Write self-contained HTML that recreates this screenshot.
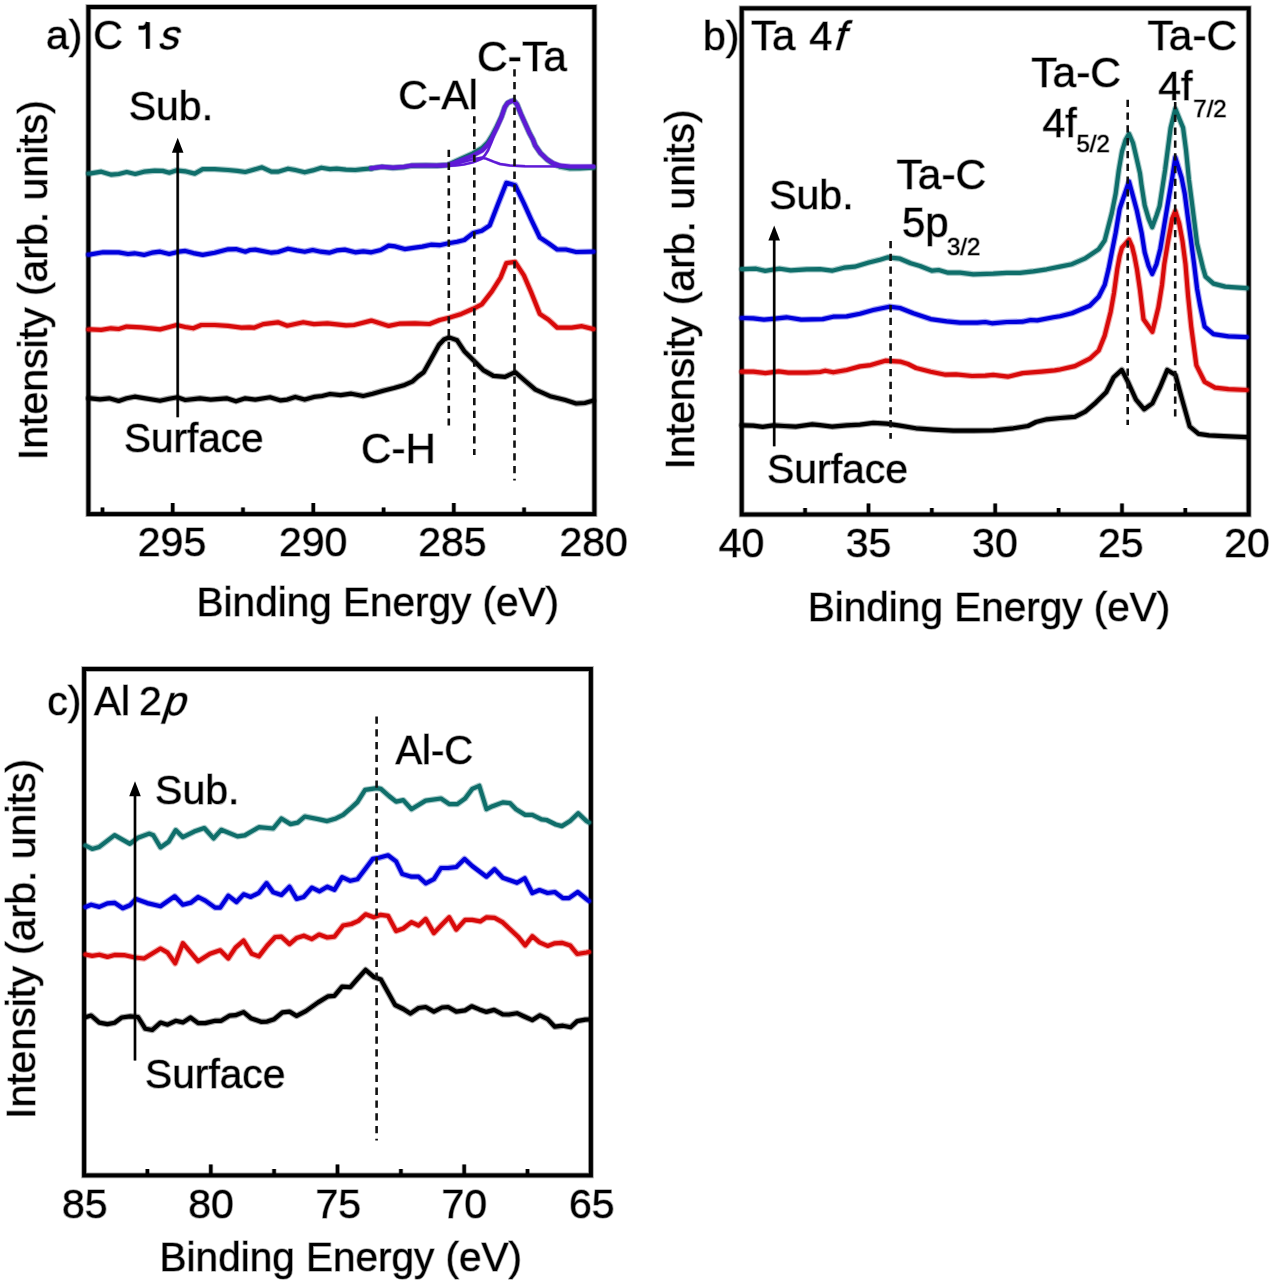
<!DOCTYPE html>
<html><head><meta charset="utf-8"><style>
html,body{margin:0;padding:0;background:#fff;}
svg{display:block;will-change:transform;}
text{font-family:"Liberation Sans",sans-serif;fill:#000;stroke:rgba(0,0,0,0.35);stroke-width:1.6px;paint-order:stroke;stroke-linejoin:round;}
</style></head><body>
<svg width="1275" height="1280" viewBox="0 0 1275 1280">
<defs>
<path d="M102.5 514.1V507.6M172.7 514.1V503.1M243.0 514.1V507.6M313.3 514.1V503.1M383.6 514.1V507.6M453.8 514.1V503.1M524.1 514.1V507.6" id="g1"/>
<rect x="88.4" y="7.0" width="506.0" height="507.1" id="g2"/>
<path d="M805.1 514.5V508.0M868.5 514.5V503.5M931.8 514.5V508.0M995.2 514.5V503.5M1058.6 514.5V508.0M1122.0 514.5V503.5M1185.3 514.5V508.0" id="g3"/>
<rect x="741.7" y="8.3" width="507.0" height="506.2" id="g4"/>
<path d="M147.4 1175.4V1168.9M210.8 1175.4V1164.4M274.1 1175.4V1168.9M337.5 1175.4V1164.4M400.9 1175.4V1168.9M464.2 1175.4V1164.4M527.5 1175.4V1168.9" id="g5"/>
<rect x="84.1" y="669" width="506.8" height="506.4" id="g6"/>
<path d="M147.8 48.7V22.2M138.6 27.7H143.2Q146.6 27.2 147.8 22.2" id="g7"/>
<polyline points="88.4,398.3 90.7,398.3 100.0,399.3 109.3,398.3 118.7,400.9 126.7,398.3 134.7,396.7 145.3,398.3 160.0,400.7 169.3,398.7 177.3,397.3 185.3,400.0 200.0,398.3 210.7,399.6 226.7,398.3 236.0,401.3 245.3,398.3 255.3,399.6 270.0,397.3 280.7,400.4 287.3,399.6 295.3,396.9 304.7,399.6 314.0,396.9 322.0,396.0 330.0,394.0 340.7,395.1 351.3,393.7 363.3,396.0 372.7,393.7 383.3,390.7 394.0,388.0 404.7,384.9 412.7,381.3 418.0,376.5 423.7,372.2 431.0,359.2 439.0,344.7 444.0,339.5 449.1,337.4 457.1,340.3 464.3,351.2 473.1,359.9 483.2,370.1 493.4,375.9 505.0,376.9 515.1,372.2 525.3,381.0 535.5,389.7 550.0,396.2 564.5,399.8 576.1,403.5 584.8,403.0 593.5,400.6" id="g8"/>
<polyline points="88.4,329.5 90.7,329.4 101.3,329.9 110.7,328.3 118.7,329.0 126.7,326.6 141.3,327.4 150.7,328.3 160.0,329.4 169.3,327.0 176.7,325.0 185.3,327.0 193.3,328.3 201.3,325.0 214.7,325.0 228.0,325.9 241.3,327.7 249.3,327.3 254.0,327.7 263.3,324.1 278.0,322.3 287.3,325.7 303.3,322.3 314.0,324.1 327.3,323.3 346.0,325.4 354.0,325.0 371.3,320.6 388.7,325.9 399.3,323.7 415.0,323.3 429.5,324.0 439.7,320.0 449.8,317.5 461.4,313.9 473.1,308.8 481.8,304.4 491.9,291.4 500.6,277.6 506.4,263.1 515.1,261.9 523.9,275.4 531.1,292.1 539.8,313.9 548.5,319.7 557.2,327.6 571.7,327.6 581.9,326.2 593.5,329.1" id="g9"/>
<polyline points="88.4,254.6 90.7,254.4 102.7,252.3 118.7,252.4 128.0,254.0 134.7,253.3 144.0,254.9 152.0,252.7 160.0,251.7 169.3,254.0 178.7,251.7 185.3,250.9 193.3,253.1 202.7,254.9 214.7,252.7 228.0,249.3 236.0,249.1 245.3,251.7 250.0,250.0 255.3,249.6 271.3,252.7 278.0,252.0 288.0,248.7 296.7,250.4 304.7,251.7 312.7,250.0 320.7,251.7 329.3,252.7 336.7,250.4 344.7,249.6 355.3,252.3 363.3,251.3 371.3,252.3 380.7,250.0 388.7,245.6 395.3,246.4 404.7,249.1 415.0,247.6 422.3,246.6 431.0,244.7 439.7,245.2 448.4,243.3 457.1,241.8 464.3,240.0 473.1,233.1 481.8,230.7 489.7,225.4 497.7,204.8 506.4,182.8 515.1,185.2 523.9,203.4 531.1,219.3 539.8,237.5 548.5,243.3 557.2,249.5 566.0,249.5 576.1,252.0 593.5,251.6" id="g10"/>
<polyline points="88.4,173.5 90.7,173.3 101.3,171.7 111.3,174.7 118.7,174.0 126.7,172.0 135.3,174.0 144.0,171.7 154.7,170.7 162.7,170.9 169.3,172.7 176.0,170.4 185.3,171.3 194.7,173.6 202.7,169.1 214.7,169.1 228.0,170.0 237.3,170.9 245.3,172.0 250.0,170.7 262.0,167.3 271.3,171.7 278.0,171.7 288.0,168.7 295.3,170.0 304.7,172.3 312.7,170.4 321.3,167.7 330.0,169.1 336.7,168.7 346.0,169.6 355.3,170.0 363.3,169.1 371.0,168.5" id="g11"/>
<polyline points="371.0,168.5 382.0,166.9 393.0,168.0 404.0,167.2 411.6,165.8 425.9,165.5 436.9,165.8 447.8,165.0 454.1,162.0 463.5,157.6 473.0,153.4 482.4,147.8 487.6,142.6 491.8,136.0 496.8,126.5 501.5,116.5 504.8,107.2 507.6,103.0 511.4,101.1 513.7,100.6 517.0,104.4 520.8,113.8 525.0,123.2 529.7,133.6 533.0,139.7 535.1,145.3 540.6,153.3 546.9,159.3 553.1,163.7 560.2,166.8 570.0,168.5 580.0,168.3 593.5,167.6" id="g12"/>
<polyline points="741.7,425.3 742.7,425.3 753.3,425.6 762.7,426.9 773.3,425.3 784.0,426.0 796.0,426.7 812.0,424.3 820.0,425.1 832.0,426.7 846.7,425.3 860.0,424.7 873.3,422.9 886.7,423.7 900.0,425.6 916.0,428.3 933.3,429.6 953.3,430.7 973.3,430.7 993.3,430.4 1013.3,428.3 1028.0,426.0 1036.0,422.0 1046.7,419.3 1060.0,418.0 1074.9,416.8 1085.3,411.6 1095.8,402.6 1106.2,392.2 1113.7,377.3 1121.8,369.9 1128.6,383.3 1136.0,399.7 1144.2,409.3 1152.4,403.4 1159.9,387.7 1167.3,369.9 1175.5,375.1 1182.2,399.7 1189.7,426.5 1198.6,433.9 1209.0,435.4 1223.9,436.2 1246.8,437.2" id="g13"/>
<polyline points="741.7,371.7 742.7,371.7 753.3,371.7 765.3,373.1 778.7,371.3 788.0,372.7 806.7,372.7 820.0,372.0 825.3,370.7 833.3,372.3 846.7,370.0 860.0,366.4 870.7,365.1 885.3,360.7 900.0,361.6 908.0,364.0 916.0,368.0 930.7,371.7 945.3,374.7 956.0,374.4 972.0,376.0 985.3,375.7 993.3,374.9 1008.0,376.7 1022.7,373.1 1041.3,371.7 1054.7,370.4 1060.0,369.5 1074.9,366.1 1089.8,358.7 1098.7,350.5 1104.7,335.6 1110.7,311.7 1114.0,293.0 1117.3,268.8 1119.6,256.3 1122.0,247.6 1129.0,239.5 1132.2,246.9 1134.5,256.3 1136.9,268.8 1140.0,290.0 1143.5,319.2 1152.4,331.8 1158.4,307.3 1162.0,285.0 1164.3,264.1 1168.2,240.6 1172.2,218.6 1175.3,211.0 1179.2,223.3 1182.4,240.6 1185.5,264.1 1188.0,295.0 1191.2,326.6 1196.4,365.4 1204.6,381.8 1215.0,387.7 1228.4,389.2 1246.8,390.0" id="g14"/>
<polyline points="741.7,318.0 742.7,318.0 753.3,318.3 764.0,319.6 774.7,318.7 786.7,317.3 801.3,319.6 822.7,319.1 833.3,316.7 846.7,316.4 860.0,313.7 873.3,310.0 889.3,306.7 900.0,308.0 913.3,313.3 930.7,319.1 946.7,321.3 960.0,322.7 977.3,322.7 985.3,322.0 992.0,323.3 1006.7,322.0 1022.7,321.7 1030.7,320.0 1037.3,320.4 1053.3,317.3 1060.0,316.2 1071.9,313.2 1089.8,305.8 1098.7,296.8 1104.7,284.9 1108.6,268.8 1111.8,252.4 1115.7,232.7 1119.6,209.2 1122.7,199.8 1129.0,181.5 1132.9,195.9 1136.9,210.8 1141.6,232.7 1144.7,252.4 1148.6,266.0 1152.2,274.0 1156.5,264.1 1160.4,248.4 1164.3,224.9 1168.2,201.4 1172.2,177.8 1175.3,157.5 1181.6,177.8 1184.7,193.5 1187.8,217.1 1191.0,240.6 1194.1,264.1 1197.1,288.8 1200.0,305.0 1204.6,326.6 1213.5,334.1 1228.4,336.3 1246.8,337.1" id="g15"/>
<polyline points="741.7,269.1 744.0,269.1 756.0,268.7 765.3,270.9 774.7,269.3 780.0,268.7 790.7,270.4 806.7,269.3 820.0,269.1 832.0,270.7 844.0,267.7 854.7,266.7 868.0,262.7 880.0,259.7 888.0,257.3 900.0,258.7 910.7,263.3 920.0,266.0 932.0,270.7 938.7,270.0 948.0,272.7 960.0,272.7 973.3,274.3 993.3,273.7 1006.7,272.9 1020.0,272.9 1033.3,271.3 1046.7,269.3 1060.0,266.6 1071.9,264.2 1085.3,258.3 1098.7,249.3 1104.7,240.5 1107.1,231.2 1111.8,213.1 1115.7,193.5 1118.8,170.0 1122.0,151.5 1125.5,140.0 1129.0,133.8 1133.0,143.0 1136.1,156.2 1140.0,173.4 1141.6,185.7 1144.7,205.3 1148.6,218.6 1152.2,227.3 1156.5,215.5 1159.6,206.1 1162.7,185.7 1165.1,170.0 1166.7,157.7 1170.6,127.9 1175.3,108.7 1183.1,127.9 1186.0,150.0 1188.9,179.3 1192.4,206.3 1197.1,243.8 1199.4,253.2 1203.0,268.0 1205.5,276.6 1213.5,283.6 1225.2,286.6 1231.4,287.1 1246.8,288.2" id="g16"/>
<polyline points="85.5,1017.3 91.1,1015.5 99.3,1022.6 107.4,1024.1 114.6,1022.8 121.7,1017.5 129.9,1016.3 138.0,1017.0 145.2,1028.7 152.3,1030.0 160.5,1022.6 167.6,1024.7 175.7,1020.8 182.9,1022.4 190.5,1017.5 198.2,1023.1 205.3,1023.1 215.1,1020.8 221.2,1020.8 229.4,1015.7 235.5,1015.2 243.6,1012.1 250.8,1018.2 261.0,1021.8 267.1,1021.6 274.2,1019.2 282.4,1012.4 289.5,1011.6 296.6,1015.9 305.8,1011.1 318.1,1002.4 328.2,996.3 334.4,995.8 342.1,986.6 350.3,987.1 357.4,979.0 365.6,969.8 373.7,976.9 380.9,979.5 388.0,992.2 395.1,1005.0 403.3,1009.0 410.4,1013.6 418.6,1008.0 425.7,1007.0 433.9,1011.6 442.0,1007.5 448.1,1007.0 456.3,1011.6 465.1,1010.4 471.7,1006.3 479.3,1009.4 486.5,1011.9 494.1,1009.9 502.8,1014.3 508.9,1014.5 517.0,1013.2 524.2,1016.5 532.3,1020.1 540.0,1015.3 547.6,1019.1 554.8,1026.7 562.9,1025.7 570.6,1027.2 577.2,1021.1 585.3,1019.6 589.0,1019.5" id="g17"/>
<polyline points="85.5,954.5 92.2,955.9 99.3,954.7 107.4,956.9 114.6,954.9 124.8,955.2 135.0,957.5 144.1,958.5 160.5,948.5 167.6,952.6 175.2,963.3 182.9,943.2 198.2,961.3 210.0,953.8 220.2,950.3 228.3,958.4 235.5,947.7 243.6,940.6 251.8,953.8 258.9,956.4 267.1,945.7 275.2,937.0 281.4,936.7 289.5,944.1 296.6,938.0 303.8,935.7 311.9,939.1 319.1,934.5 327.2,937.5 334.4,936.7 343.1,925.5 351.3,924.0 358.4,920.9 365.6,914.3 373.7,917.3 380.9,914.8 388.0,915.8 396.1,931.1 403.3,928.5 411.4,922.2 418.6,925.5 425.7,918.9 433.9,933.1 442.0,924.5 449.2,917.3 456.3,929.6 465.1,919.9 472.2,919.9 480.3,921.4 486.5,917.3 494.6,917.8 502.8,922.4 510.9,930.1 518.1,936.7 525.2,945.4 532.3,936.2 539.5,942.3 547.6,945.9 554.8,943.3 561.9,942.8 570.1,945.4 577.2,954.0 586.4,952.5 589.0,952.0" id="g18"/>
<polyline points="85.5,907.0 91.1,904.7 99.3,906.9 107.4,903.4 114.6,902.8 122.7,908.2 129.9,905.2 136.0,899.1 147.2,903.1 160.5,906.2 174.7,896.3 182.9,904.7 191.0,902.6 198.2,897.0 205.3,900.6 215.1,907.6 220.2,907.6 228.3,895.7 236.5,902.0 243.6,894.3 250.8,896.9 258.9,892.8 266.6,883.1 273.2,892.3 281.4,894.9 289.5,886.7 296.6,898.9 303.8,896.9 311.9,887.7 319.6,891.3 327.2,886.7 334.4,889.8 342.1,877.2 350.3,880.8 357.4,879.2 365.6,868.5 372.7,858.9 378.8,857.8 388.0,855.3 396.1,861.4 402.3,874.1 411.4,876.7 418.6,876.7 425.7,883.3 433.9,879.2 441.0,868.0 448.1,868.0 456.3,867.0 464.5,858.9 472.2,866.0 486.5,876.7 494.6,869.1 502.8,877.7 517.0,882.8 524.7,878.2 532.3,893.0 539.5,890.0 547.6,893.0 554.8,892.0 562.9,898.1 569.0,898.1 577.7,892.0 586.4,899.1 589.0,901.0" id="g19"/>
<polyline points="85.5,845.5 92.2,848.9 99.3,846.9 114.6,835.2 129.9,843.8 138.0,837.7 149.2,833.6 153.3,835.2 160.5,847.4 168.6,841.8 175.7,830.1 182.9,837.2 194.1,831.6 204.3,828.0 213.6,838.4 221.2,829.8 237.5,836.4 244.7,835.4 258.9,827.2 273.2,828.5 281.4,818.5 290.5,824.1 297.7,822.6 304.8,816.5 318.1,819.1 327.2,821.1 336.0,818.4 343.1,814.9 350.3,808.7 357.4,802.1 365.1,789.9 376.8,788.1 380.9,788.9 389.0,796.0 396.1,801.6 403.3,800.1 411.4,809.2 425.7,800.6 441.0,798.5 449.2,804.1 457.3,804.1 465.1,798.5 472.2,788.9 479.3,785.8 486.5,809.2 492.6,806.2 502.8,802.4 509.9,803.1 516.0,809.2 525.2,814.9 532.3,814.9 541.5,819.4 546.6,820.0 555.8,824.5 561.9,826.1 570.1,821.0 578.2,813.3 586.4,821.0 589.0,822.5" id="g20"/>
<polyline points="440.0,166.0 452.0,164.8 463.5,161.8 473.0,159.3 481.5,157.8 486.0,158.6 493.5,161.6 500.0,164.0 510.0,165.5 525.0,166.2 548.0,166.4 570.0,166.4 593.5,166.4" id="g21"/>
<polyline points="440.0,166.3 455.0,165.6 463.5,164.6 473.0,162.4 481.5,158.8 485.0,155.2 488.0,150.5 491.8,141.5 494.0,134.5" id="g22"/>
<polyline points="371.0,168.2 382.0,166.7 393.0,167.6 404.0,166.8 411.6,165.6 425.9,165.4 436.9,165.6 447.8,164.9 454.1,162.9 463.5,159.4 473.0,155.6 482.4,150.4 487.1,145.5 491.8,138.3 496.8,127.9 501.5,117.1 504.8,107.2 507.6,103.0 511.4,101.1 513.7,100.4 517.0,104.4 520.8,113.8 525.0,123.2 529.7,133.6 533.0,139.7 535.1,145.3 540.6,153.3 546.9,159.3 553.1,163.2 560.2,165.6 570.0,166.4 580.0,166.5 593.5,166.5" id="g23"/>
<path d="M177.7 417.3V149.7" id="g24"/>
<path d="M774.2 446.3V237.4" id="g25"/>
<path d="M135.0 1060.6V793.3" id="g26"/>
</defs>
<rect width="1275" height="1280" fill="#fff"/>
<use href="#g1" stroke="#000" stroke-width="4.8" stroke-opacity="0.35" fill="none" stroke-linecap="butt" stroke-linejoin="miter"/>
<use href="#g1" stroke="#000" stroke-width="3.3" fill="none" stroke-linecap="butt" stroke-linejoin="miter"/>
<use href="#g2" stroke="#000" stroke-width="5.8" stroke-opacity="0.35" fill="none" stroke-linecap="butt" stroke-linejoin="miter"/>
<use href="#g2" stroke="#000" stroke-width="4.0" fill="none" stroke-linecap="butt" stroke-linejoin="miter"/>
<use href="#g3" stroke="#000" stroke-width="4.8" stroke-opacity="0.35" fill="none" stroke-linecap="butt" stroke-linejoin="miter"/>
<use href="#g3" stroke="#000" stroke-width="3.3" fill="none" stroke-linecap="butt" stroke-linejoin="miter"/>
<use href="#g4" stroke="#000" stroke-width="5.8" stroke-opacity="0.35" fill="none" stroke-linecap="butt" stroke-linejoin="miter"/>
<use href="#g4" stroke="#000" stroke-width="4.0" fill="none" stroke-linecap="butt" stroke-linejoin="miter"/>
<use href="#g5" stroke="#000" stroke-width="4.8" stroke-opacity="0.35" fill="none" stroke-linecap="butt" stroke-linejoin="miter"/>
<use href="#g5" stroke="#000" stroke-width="3.3" fill="none" stroke-linecap="butt" stroke-linejoin="miter"/>
<use href="#g6" stroke="#000" stroke-width="5.8" stroke-opacity="0.35" fill="none" stroke-linecap="butt" stroke-linejoin="miter"/>
<use href="#g6" stroke="#000" stroke-width="4.0" fill="none" stroke-linecap="butt" stroke-linejoin="miter"/>
<text x="46.0" y="48.6" font-size="41">a)</text>
<text x="93.2" y="48.6" font-size="41">C</text>
<use href="#g7" stroke="#000" stroke-width="5.2" stroke-opacity="0.35" fill="none" stroke-linecap="butt" stroke-linejoin="miter"/>
<use href="#g7" stroke="#000" stroke-width="3.6" fill="none" stroke-linecap="butt" stroke-linejoin="miter"/>
<text transform="translate(157.3,48.6) skewX(-16)" font-size="41">s</text>
<text x="477.1" y="70.5" font-size="42.5">C-Ta</text>
<text x="398.2" y="109.2" font-size="41">C-Al</text>
<text x="128.7" y="119.9" font-size="41">Sub.</text>
<text x="124.0" y="451.5" font-size="40.5">Surface</text>
<text x="361.1" y="463.2" font-size="42">C-H</text>
<text x="137.8" y="556.2" font-size="41">295</text>
<text x="279.0" y="556.2" font-size="41">290</text>
<text x="418.2" y="556.2" font-size="41">285</text>
<text x="559.4" y="556.2" font-size="41">280</text>
<text x="196.6" y="616.2" font-size="40.5">Binding Energy (eV)</text>
<text x="703.0" y="50.4" font-size="41">b)</text>
<text x="751.1" y="50.4" font-size="42">Ta</text>
<text x="809.2" y="50.4" font-size="41.5">4</text>
<text transform="translate(832.4,50.4) skewX(-16)" font-size="41">f</text>
<text x="1147.5" y="50.0" font-size="42.5">Ta-C</text>
<text x="1158.3" y="99.8" font-size="41">4f</text>
<text x="1193.3" y="117.3" font-size="24">7/2</text>
<text x="1031.3" y="86.7" font-size="42.5">Ta-C</text>
<text x="1042.5" y="136.5" font-size="41">4f</text>
<text x="1076.4" y="152.2" font-size="24">5/2</text>
<text x="896.5" y="188.9" font-size="42.5">Ta-C</text>
<text x="901.9" y="236.8" font-size="42">5p</text>
<text x="947.0" y="254.7" font-size="24">3/2</text>
<text x="769.2" y="208.9" font-size="41">Sub.</text>
<text x="767.1" y="482.6" font-size="40.9">Surface</text>
<text x="718.7" y="556.7" font-size="41">40</text>
<text x="845.8" y="556.7" font-size="41">35</text>
<text x="972.1" y="556.7" font-size="41">30</text>
<text x="1097.9" y="556.7" font-size="41">25</text>
<text x="1224.2" y="556.7" font-size="41">20</text>
<text x="807.8" y="620.5" font-size="40.5">Binding Energy (eV)</text>
<text x="47.2" y="715.4" font-size="41">c)</text>
<text x="94.0" y="715.4" font-size="40.4">Al</text>
<text x="139.0" y="715.4" font-size="41">2</text>
<text transform="translate(161.3,715.4) skewX(-18)" font-size="41">p</text>
<text x="395.4" y="764.1" font-size="40">Al-C</text>
<text x="155.1" y="803.9" font-size="41">Sub.</text>
<text x="145.1" y="1087.6" font-size="40.7">Surface</text>
<text x="61.9" y="1218.2" font-size="41">85</text>
<text x="188.3" y="1218.2" font-size="41">80</text>
<text x="315.5" y="1218.2" font-size="41">75</text>
<text x="441.5" y="1218.2" font-size="41">70</text>
<text x="568.9" y="1218.2" font-size="41">65</text>
<text x="159.6" y="1270.6" font-size="40.5">Binding Energy (eV)</text>
<text transform="translate(47.4,460.2) rotate(-90)" font-size="41">Intensity (arb. units)</text>
<text transform="translate(693.5,469.4) rotate(-90)" font-size="41">Intensity (arb. units)</text>
<text transform="translate(35.1,1119.0) rotate(-90)" font-size="41">Intensity (arb. units)</text>
<use href="#g8" stroke="#000" stroke-width="6.4" stroke-opacity="0.35" fill="none" stroke-linecap="round" stroke-linejoin="round"/>
<use href="#g8" stroke="#000" stroke-width="4.2" fill="none" stroke-linecap="round" stroke-linejoin="round"/>
<use href="#g9" stroke="#d80a0a" stroke-width="6.4" stroke-opacity="0.35" fill="none" stroke-linecap="round" stroke-linejoin="round"/>
<use href="#g9" stroke="#d80a0a" stroke-width="4.2" fill="none" stroke-linecap="round" stroke-linejoin="round"/>
<use href="#g10" stroke="#0000dc" stroke-width="6.4" stroke-opacity="0.35" fill="none" stroke-linecap="round" stroke-linejoin="round"/>
<use href="#g10" stroke="#0000dc" stroke-width="4.2" fill="none" stroke-linecap="round" stroke-linejoin="round"/>
<use href="#g11" stroke="#0f6e6a" stroke-width="6.4" stroke-opacity="0.35" fill="none" stroke-linecap="round" stroke-linejoin="round"/>
<use href="#g11" stroke="#0f6e6a" stroke-width="4.2" fill="none" stroke-linecap="round" stroke-linejoin="round"/>
<use href="#g12" stroke="#0f6e6a" stroke-width="6.4" stroke-opacity="0.35" fill="none" stroke-linecap="round" stroke-linejoin="round"/>
<use href="#g12" stroke="#0f6e6a" stroke-width="4.2" fill="none" stroke-linecap="round" stroke-linejoin="round"/>
<use href="#g13" stroke="#000" stroke-width="6.4" stroke-opacity="0.35" fill="none" stroke-linecap="round" stroke-linejoin="round"/>
<use href="#g13" stroke="#000" stroke-width="4.2" fill="none" stroke-linecap="round" stroke-linejoin="round"/>
<use href="#g14" stroke="#d80a0a" stroke-width="6.4" stroke-opacity="0.35" fill="none" stroke-linecap="round" stroke-linejoin="round"/>
<use href="#g14" stroke="#d80a0a" stroke-width="4.2" fill="none" stroke-linecap="round" stroke-linejoin="round"/>
<use href="#g15" stroke="#0000dc" stroke-width="6.4" stroke-opacity="0.35" fill="none" stroke-linecap="round" stroke-linejoin="round"/>
<use href="#g15" stroke="#0000dc" stroke-width="4.2" fill="none" stroke-linecap="round" stroke-linejoin="round"/>
<use href="#g16" stroke="#0f6e6a" stroke-width="6.4" stroke-opacity="0.35" fill="none" stroke-linecap="round" stroke-linejoin="round"/>
<use href="#g16" stroke="#0f6e6a" stroke-width="4.2" fill="none" stroke-linecap="round" stroke-linejoin="round"/>
<use href="#g17" stroke="#000" stroke-width="6.4" stroke-opacity="0.35" fill="none" stroke-linecap="round" stroke-linejoin="round"/>
<use href="#g17" stroke="#000" stroke-width="4.2" fill="none" stroke-linecap="round" stroke-linejoin="round"/>
<use href="#g18" stroke="#d80a0a" stroke-width="6.4" stroke-opacity="0.35" fill="none" stroke-linecap="round" stroke-linejoin="round"/>
<use href="#g18" stroke="#d80a0a" stroke-width="4.2" fill="none" stroke-linecap="round" stroke-linejoin="round"/>
<use href="#g19" stroke="#0000dc" stroke-width="6.4" stroke-opacity="0.35" fill="none" stroke-linecap="round" stroke-linejoin="round"/>
<use href="#g19" stroke="#0000dc" stroke-width="4.2" fill="none" stroke-linecap="round" stroke-linejoin="round"/>
<use href="#g20" stroke="#0f6e6a" stroke-width="6.4" stroke-opacity="0.35" fill="none" stroke-linecap="round" stroke-linejoin="round"/>
<use href="#g20" stroke="#0f6e6a" stroke-width="4.2" fill="none" stroke-linecap="round" stroke-linejoin="round"/>
<use href="#g21" stroke="#5f1ad6" stroke-width="3.0" stroke-opacity="0.35" fill="none" stroke-linecap="round" stroke-linejoin="round"/>
<use href="#g21" stroke="#5f1ad6" stroke-width="2.4" fill="none" stroke-linecap="round" stroke-linejoin="round"/>
<use href="#g22" stroke="#5f1ad6" stroke-width="3.0" stroke-opacity="0.35" fill="none" stroke-linecap="round" stroke-linejoin="round"/>
<use href="#g22" stroke="#5f1ad6" stroke-width="2.4" fill="none" stroke-linecap="round" stroke-linejoin="round"/>
<use href="#g23" stroke="#5f1ad6" stroke-width="5.6" stroke-opacity="0.35" fill="none" stroke-linecap="round" stroke-linejoin="round"/>
<use href="#g23" stroke="#5f1ad6" stroke-width="4.0" fill="none" stroke-linecap="round" stroke-linejoin="round"/>
<use href="#g24" stroke="#000" stroke-width="3.3" stroke-opacity="0.35" fill="none" stroke-linecap="butt" stroke-linejoin="miter"/>
<use href="#g24" stroke="#000" stroke-width="2.3" fill="none" stroke-linecap="butt" stroke-linejoin="miter"/>
<path d="M177.7 137.7L183.5 152.7L171.89999999999998 152.7Z" fill="#000"/>
<use href="#g25" stroke="#000" stroke-width="3.3" stroke-opacity="0.35" fill="none" stroke-linecap="butt" stroke-linejoin="miter"/>
<use href="#g25" stroke="#000" stroke-width="2.3" fill="none" stroke-linecap="butt" stroke-linejoin="miter"/>
<path d="M774.2 225.4L780.0 240.4L768.4000000000001 240.4Z" fill="#000"/>
<use href="#g26" stroke="#000" stroke-width="3.3" stroke-opacity="0.35" fill="none" stroke-linecap="butt" stroke-linejoin="miter"/>
<use href="#g26" stroke="#000" stroke-width="2.3" fill="none" stroke-linecap="butt" stroke-linejoin="miter"/>
<path d="M135.0 781.3L140.8 796.3L129.2 796.3Z" fill="#000"/>
<path d="M448.8 149.8V425.5" stroke="#111" stroke-width="2.6" stroke-dasharray="7.3 5.5" fill="none"/>
<path d="M474.3 116.3V454.9" stroke="#111" stroke-width="2.6" stroke-dasharray="7.3 5.5" fill="none"/>
<path d="M514.5 69.2V480.4" stroke="#111" stroke-width="2.6" stroke-dasharray="7.3 5.5" fill="none"/>
<path d="M890.6 240.9V438.7" stroke="#111" stroke-width="2.6" stroke-dasharray="7.3 5.5" fill="none"/>
<path d="M1127.7 99.7V425" stroke="#111" stroke-width="2.6" stroke-dasharray="7.3 5.5" fill="none"/>
<path d="M1175.2 102V419.8" stroke="#111" stroke-width="2.6" stroke-dasharray="7.3 5.5" fill="none"/>
<path d="M376.6 716.4V1140.6" stroke="#111" stroke-width="2.6" stroke-dasharray="7.3 5.5" fill="none"/>
</svg>
</body></html>
